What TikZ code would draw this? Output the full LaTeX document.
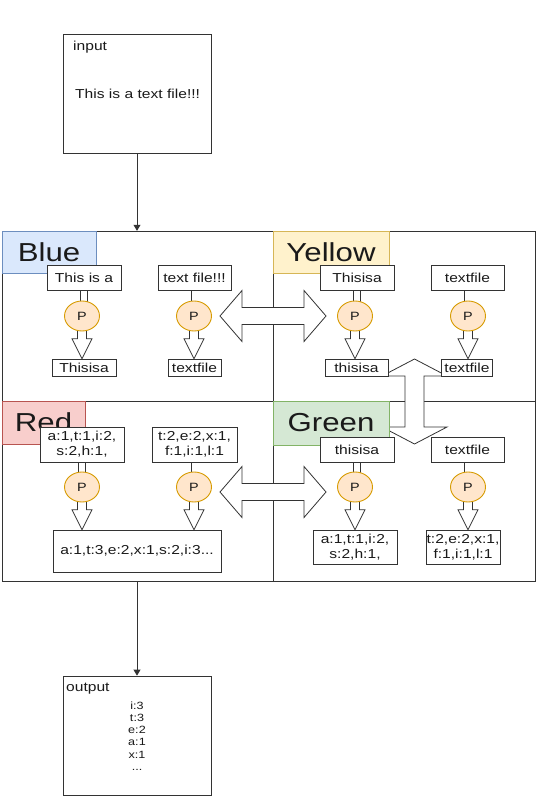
\documentclass[tikz,border=0pt]{standalone}
\usepackage{fontspec}
\setmainfont{Liberation Sans}[FakeStretch=1.2]
\usetikzlibrary{calc,arrows.meta,shapes.geometric}
\definecolor{ln}{HTML}{333333}
\definecolor{txt}{HTML}{1A1A1A}
\definecolor{bluef}{HTML}{DAE8FC}\definecolor{bluel}{HTML}{6C8EBF}
\definecolor{yelf}{HTML}{FFF2CC}\definecolor{yell}{HTML}{D6B656}
\definecolor{redf}{HTML}{F8CECC}\definecolor{redl}{HTML}{B85450}
\definecolor{grnf}{HTML}{D5E8D4}\definecolor{grnl}{HTML}{82B366}
\definecolor{orf}{HTML}{FFE6CC}\definecolor{orl}{HTML}{D79B00}
\pgfdeclarelayer{bg}\pgfdeclarelayer{mid}
\pgfsetlayers{bg,mid,main}
\tikzset{
  quad/.style={draw=ln, fill=white, inner sep=0pt},
  lab/.style={draw=#1l, fill=#1f, inner sep=0pt, text=txt, font=\fontsize{26}{28}\selectfont},
  box/.style={draw=ln, fill=white, inner sep=0pt, text=txt, align=center, font=\fontsize{13}{15}\selectfont},
  plain/.style={inner sep=0pt, text=txt, font=\fontsize{13}{15}\selectfont},
  proc/.style={ellipse, draw=orl, fill=orf, line width=0.9pt, minimum width=35pt, minimum height=30pt, inner sep=0pt, text=txt, font=\fontsize{12}{14}\selectfont},
  link/.style={draw=ln, line width=0.8pt, double=white, double distance=6pt},
  blk/.style={draw=ln, fill=white, line width=0.8pt, line join=miter},
  conn/.style={draw=ln, line width=0.8pt, -{Triangle[length=6pt,width=7pt]}},
}
\newcommand\hollowarrow[2]{%
  \draw[blk] let \p1=(#1.south), \p2=(#1.south |- #2.north) in
    (\x1-4.5pt,\y1+3pt) -- (\x1-4.5pt,\y2+20pt) -- (\x1-10pt,\y2+20pt) -- (\x2,\y2)
    -- (\x1+10pt,\y2+20pt) -- (\x1+4.5pt,\y2+20pt) -- (\x1+4.5pt,\y1+3pt);}
\newcommand\linkit[2]{\draw[link] ([yshift=2pt]#1.south) -- ([yshift=-2pt]#1.south |- #2.north);}
\begin{document}
\begin{tikzpicture}[x=1pt,y=-1pt]
\useasboundingbox (0,0) rectangle (538,810);
% ---------- quadrants ----------
\begin{pgfonlayer}{bg}
\fill[white] (0,0) rectangle (538,810);
\node[quad, minimum width=271pt, minimum height=170pt] (blueq) at (137.5,316) {};
\node[quad, minimum width=262pt, minimum height=170pt] (yelq) at (404,316) {};
\node[quad, minimum width=271pt, minimum height=180pt] (redq) at (137.5,491) {};
\node[quad, minimum width=262pt, minimum height=180pt] (grnq) at (404,491) {};
\end{pgfonlayer}
% ---------- input / output ----------
\node[draw=ln, line width=0.8pt, fill=white, minimum width=148pt, minimum height=119pt] (input) at (137,93.5) {};
\node[plain, anchor=west] (inlab) at (73,47) {input};
\node[plain, anchor=west] (intext) at (75,94) {This is a text file!!!};
\node[draw=ln, line width=0.8pt, fill=white, minimum width=148pt, minimum height=119pt] (output) at (137,735.5) {};
\node[plain, anchor=west] (outlab) at (66,689) {output};
\node[plain, align=center, font=\fontsize{10.5}{12.3}\selectfont] (outlist) at (137,736) {i:3\\t:3\\e:2\\a:1\\x:1\\...};
% ---------- labels ----------
\node[lab=blue, minimum width=94pt, minimum height=42pt] (bluelab) at (49,252) {Blue};
\node[lab=yel, minimum width=116pt, minimum height=42pt] (yellab) at (331,252) {Yellow};
\node[lab=red, minimum width=83pt, minimum height=43pt] (redlab) at (43.5,422.5) {Red};
\node[lab=grn, minimum width=116pt, minimum height=44pt] (grnlab) at (331,423) {Green};
% ---------- Blue ----------
\node[box, minimum width=74pt, minimum height=25pt] (b1) at (84,277.5) {This is a};
\node[box, minimum width=73pt, minimum height=25pt] (b2) at (194.5,277.5) {text file!!!};
\node[proc] (bp1) at (82,316) {P};
\node[proc] (bp2) at (194,316) {P};
\node[box, minimum width=64pt, minimum height=17pt] (b3) at (84,367.5) {Thisisa};
\node[box, minimum width=53pt, minimum height=17pt] (b4) at (194.5,367.5) {textfile};
% ---------- Yellow ----------
\node[box, minimum width=74pt, minimum height=25pt] (y1) at (357,277.5) {Thisisa};
\node[box, minimum width=73pt, minimum height=25pt] (y2) at (467.5,277.5) {textfile};
\node[proc] (yp1) at (355,316) {P};
\node[proc] (yp2) at (468,316) {P};
\node[box, minimum width=63pt, minimum height=17pt] (y3) at (356.5,367.5) {thisisa};
\node[box, minimum width=51pt, minimum height=17pt] (y4) at (467,367.5) {textfile};
% ---------- Red ----------
\node[box, minimum width=84pt, minimum height=35pt] (r1) at (82,444.5) {a:1,t:1,i:2,\\s:2,h:1,};
\node[box, minimum width=85pt, minimum height=35pt] (r2) at (194.5,444.5) {t:2,e:2,x:1,\\f:1,i:1,l:1};
\node[proc] (rp1) at (82,487) {P};
\node[proc] (rp2) at (194,487) {P};
\node[box, minimum width=168pt, minimum height=42pt] (r3) at (137,551) {a:1,t:3,e:2,x:1,s:2,i:3...};
% ---------- Green ----------
\node[box, minimum width=74pt, minimum height=25pt] (g1) at (357,449.5) {thisisa};
\node[box, minimum width=73pt, minimum height=25pt] (g2) at (467.5,449.5) {textfile};
\node[proc] (gp1) at (355,487) {P};
\node[proc] (gp2) at (468,487) {P};
\node[box, minimum width=84pt, minimum height=34pt] (g3) at (355,547) {a:1,t:1,i:2,\\s:2,h:1,};
\node[box, minimum width=74pt, minimum height=34pt] (g4) at (463,547) {t:2,e:2,x:1,\\f:1,i:1,l:1};
% ---------- connectors ----------
\begin{pgfonlayer}{mid}
\draw[conn] (input.south) -- (input.south |- blueq.north);
\draw[conn] (output.north |- redq.south) -- (output.north);
% big block arrows
\draw[blk] (220,316) -- (242,290.5) -- (242,307.5) -- (304,307.5) -- (304,290.5) -- (326,316)
  -- (304,341.5) -- (304,324.5) -- (242,324.5) -- (242,341.5) -- cycle;
\draw[blk] (220,492) -- (242,466.5) -- (242,483.5) -- (304,483.5) -- (304,466.5) -- (326,492)
  -- (304,517.5) -- (304,500.5) -- (242,500.5) -- (242,517.5) -- cycle;
\draw[blk] (414.5,359) -- (447,376) -- (424,376) -- (424,427) -- (447,427) -- (414.5,444)
  -- (382,427) -- (405,427) -- (405,376) -- (382,376) -- cycle;
% links box -> P
\linkit{b1}{bp1}\linkit{b2}{bp2}\linkit{y1}{yp1}\linkit{y2}{yp2}
\linkit{r1}{rp1}\linkit{r2}{rp2}\linkit{g1}{gp1}\linkit{g2}{gp2}
% hollow arrows P -> result
\hollowarrow{bp1}{b3}\hollowarrow{bp2}{b4}\hollowarrow{yp1}{y3}\hollowarrow{yp2}{y4}
\hollowarrow{rp1}{r3}\hollowarrow{rp2}{r3}\hollowarrow{gp1}{g3}\hollowarrow{gp2}{g4}
\end{pgfonlayer}
\end{tikzpicture}
\end{document}
